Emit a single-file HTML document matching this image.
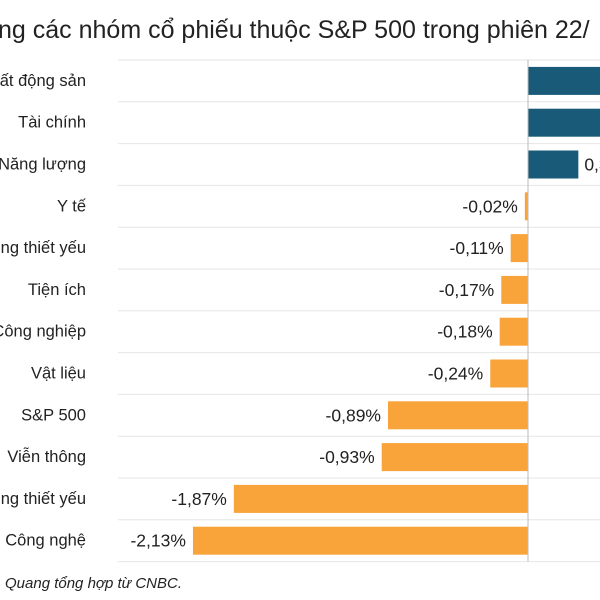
<!DOCTYPE html>
<html><head><meta charset="utf-8"><style>
html,body{margin:0;padding:0;background:#fff;width:600px;height:600px;overflow:hidden}
svg{display:block;font-family:"Liberation Sans","DejaVu Sans",sans-serif}
</style></head><body>
<svg id="chart" width="600" height="600">
<text x="-2" y="38" font-size="25" fill="#222">ng các nhóm cổ phiếu thuộc S&amp;P 500 trong phiên 22/</text>
<g id="grid"></g><g id="bars"></g>
<text x="5" y="588" font-size="15" font-style="italic" fill="#222">Quang tổng hợp từ CNBC.</text>
</svg>
<script>
const categories=["Bất động sản","Tài chính","Năng lượng","Y tế","Hàng tiêu dùng thiết yếu","Tiện ích","Công nghiệp","Vật liệu","S&P 500","Viễn thông","Hàng tiêu dùng không thiết yếu","Công nghệ"];
const values=[0.62,0.58,0.32,-0.02,-0.11,-0.17,-0.18,-0.24,-0.89,-0.93,-1.87,-2.13];
const valueLabels=["0,62%","0,58%","0,32%","-0,02%","-0,11%","-0,17%","-0,18%","-0,24%","-0,89%","-0,93%","-1,87%","-2,13%"];
const NS="http://www.w3.org/2000/svg";
const x0=528,pxPer=157.3,top0=60,pitch=41.8,barH=28;
const xs=v=>x0+v*pxPer;
const ys=i=>top0+i*pitch+pitch/2;
const grid=document.getElementById('grid'),bars=document.getElementById('bars');
function mk(tag,attrs,parent){const e=document.createElementNS(NS,tag);for(const k in attrs)e.setAttribute(k,attrs[k]);parent.appendChild(e);return e;}
for(let i=0;i<=categories.length;i++){
  const l=mk('line',{x1:118,x2:600,y1:top0+i*pitch,y2:top0+i*pitch,stroke:'#e6e6e6','stroke-width':1},grid);
  
  
}
categories.forEach((c,i)=>{
  const v=values[i],y=ys(i);
  const r=mk('rect',{x:Math.min(xs(0),xs(v)),y:y-barH/2,width:Math.abs(xs(v)-xs(0)),height:barH,fill:v>=0?'#185a78':'#f9a43a'},bars);
  
  
  const t=mk('text',{x:86,y:y+5,'text-anchor':'end','font-size':16.5,fill:'#222'},bars);
  t.textContent=c;
  
  
  const vl=mk('text',{x:v>=0?xs(v)+6:xs(v)-7,y:y+6,'text-anchor':v>=0?'start':'end','font-size':17.5,fill:'#222'},bars);
  vl.textContent=valueLabels[i];
  
  
});
const ax=mk('line',{x1:x0,x2:x0,y1:top0,y2:top0+categories.length*pitch,stroke:'#bbb','stroke-width':1},bars);


</script>
</body></html>
